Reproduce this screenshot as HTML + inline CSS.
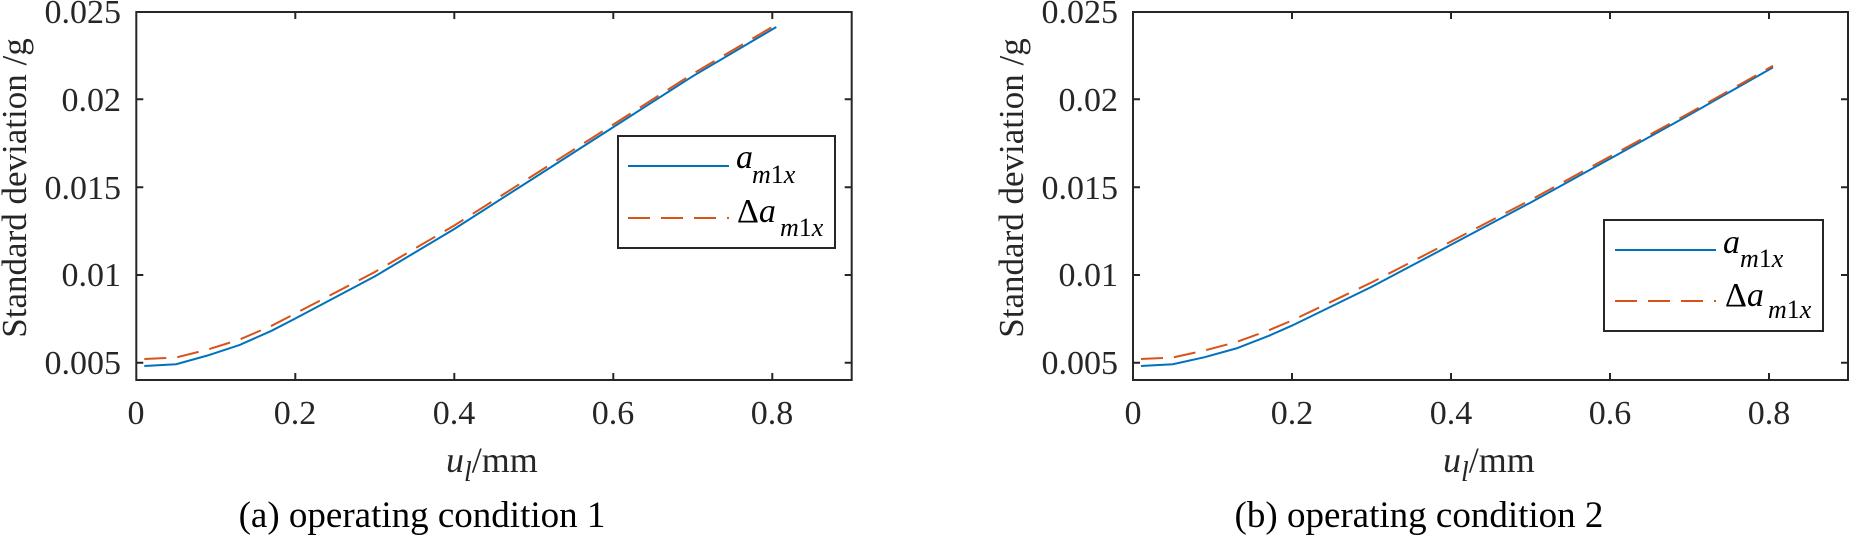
<!DOCTYPE html>
<html><head><meta charset="utf-8"><style>
html,body{margin:0;padding:0;background:#fff;}
svg, svg text{font-family:"Liberation Serif","Times New Roman","DejaVu Serif",serif;}
</style></head><body>
<svg width="1850" height="535" viewBox="0 0 1850 535" xmlns="http://www.w3.org/2000/svg" font-family="Liberation Serif, Times New Roman, serif">
<g id="L">
<polyline fill="none" stroke="#0072BD" stroke-width="2" points="144.3,366 176.1,364.2 207.9,355.4 239.7,344.9 271.5,330.8 295.3,318.5 374.8,276.4 454.3,229 533.8,178.1 613.3,127.1 692.8,76.2 776.3,27"/>
<polyline fill="none" stroke="#D95319" stroke-width="2" stroke-dasharray="22,11" points="144.3,359 176.1,357.5 207.9,349.5 239.7,339.5 271.5,325.8 295.3,313.5 374.8,272 454.3,225.5 533.8,175 613.3,124.5 692.8,73.8 776.3,24.5"/>
<rect x="136.3" y="12" width="715.4" height="368" fill="none" stroke="#262626" stroke-width="2"/>
<g stroke="#262626" stroke-width="2">
<path d="M295.3,380v-7M454.3,380v-7M613.3,380v-7M772.3,380v-7M295.3,12v7M454.3,12v7M613.3,12v7M772.3,12v7"/>
<path d="M136.3,362.8h7M136.3,275h7M136.3,187.3h7M136.3,99.3h7M851.7,362.8h-7M851.7,275h-7M851.7,187.3h-7M851.7,99.3h-7"/>
</g>
<g font-size="34" fill="#262626" text-anchor="end">
<text x="121" y="374">0.005</text><text x="121" y="286">0.01</text><text x="121" y="199">0.015</text><text x="121" y="111">0.02</text><text x="121" y="23">0.025</text>
</g>
<g font-size="34" fill="#262626" text-anchor="middle">
<text x="136" y="424">0</text><text x="295" y="424">0.2</text><text x="454" y="424">0.4</text><text x="613" y="424">0.6</text><text x="772" y="424">0.8</text>
</g>
<text transform="translate(26,188) rotate(-90)" font-size="35" fill="#262626" text-anchor="middle">Standard deviation /g</text>
<text x="446" y="472" font-size="36" fill="#262626"><tspan font-style="italic">u</tspan><tspan font-style="italic" font-size="28" dy="9">l</tspan><tspan dy="-9">/mm</tspan></text>
<text x="422" y="527" font-size="37" fill="#000" text-anchor="middle">(a) operating condition 1</text>
<rect x="618" y="136" width="217" height="112" fill="#fff" stroke="#262626" stroke-width="2"/>
<line x1="628" y1="166" x2="729" y2="166" stroke="#0072BD" stroke-width="2"/>
<line x1="628" y1="218" x2="729" y2="218" stroke="#D95319" stroke-width="2" stroke-dasharray="22,11"/>
<text x="736" y="168" font-size="34" font-style="italic">a</text>
<text x="752" y="183" font-size="26" font-style="italic">m<tspan font-style="normal">1</tspan>x</text>
<text x="737" y="222" font-size="34">Δ<tspan font-style="italic">a</tspan></text>
<text x="780" y="236" font-size="26" font-style="italic">m<tspan font-style="normal">1</tspan>x</text>
</g>
<g id="R">
<polyline fill="none" stroke="#0072BD" stroke-width="2" points="1141,366 1172.8,364.2 1204.6,357.2 1236.4,348.4 1268.2,336.1 1292,325.6 1371.5,286.9 1451,244.8 1530.5,202.6 1610,158.7 1689.5,114.8 1773,67.4"/>
<polyline fill="none" stroke="#D95319" stroke-width="2" stroke-dasharray="22,11" points="1141,359 1172.8,357.5 1204.6,350.5 1236.4,342 1268.2,330.5 1292,320.5 1371.5,282.5 1451,241.5 1530.5,200 1610,156.5 1689.5,113 1773,65.8"/>
<rect x="1133" y="12" width="715" height="368" fill="none" stroke="#262626" stroke-width="2"/>
<g stroke="#262626" stroke-width="2">
<path d="M1292,380v-7M1451,380v-7M1610,380v-7M1769,380v-7M1292,12v7M1451,12v7M1610,12v7M1769,12v7"/>
<path d="M1133,362.8h7M1133,275h7M1133,187.3h7M1133,99.3h7M1848,362.8h-7M1848,275h-7M1848,187.3h-7M1848,99.3h-7"/>
</g>
<g font-size="34" fill="#262626" text-anchor="end">
<text x="1118" y="374">0.005</text><text x="1118" y="286">0.01</text><text x="1118" y="199">0.015</text><text x="1118" y="111">0.02</text><text x="1118" y="23">0.025</text>
</g>
<g font-size="34" fill="#262626" text-anchor="middle">
<text x="1133" y="424">0</text><text x="1292" y="424">0.2</text><text x="1451" y="424">0.4</text><text x="1610" y="424">0.6</text><text x="1769" y="424">0.8</text>
</g>
<text transform="translate(1023,188) rotate(-90)" font-size="35" fill="#262626" text-anchor="middle">Standard deviation /g</text>
<text x="1443" y="472" font-size="36" fill="#262626"><tspan font-style="italic">u</tspan><tspan font-style="italic" font-size="28" dy="9">l</tspan><tspan dy="-9">/mm</tspan></text>
<text x="1419" y="527" font-size="37" fill="#000" text-anchor="middle">(b) operating condition 2</text>
<rect x="1604" y="220" width="219" height="111" fill="#fff" stroke="#262626" stroke-width="2"/>
<line x1="1615" y1="250" x2="1716" y2="250" stroke="#0072BD" stroke-width="2"/>
<line x1="1615" y1="301" x2="1716" y2="301" stroke="#D95319" stroke-width="2" stroke-dasharray="22,11"/>
<text x="1723" y="253" font-size="34" font-style="italic">a</text>
<text x="1740" y="267" font-size="26" font-style="italic">m<tspan font-style="normal">1</tspan>x</text>
<text x="1725" y="306" font-size="34">Δ<tspan font-style="italic">a</tspan></text>
<text x="1768" y="318" font-size="26" font-style="italic">m<tspan font-style="normal">1</tspan>x</text>
</g>
</svg>
</body></html>
